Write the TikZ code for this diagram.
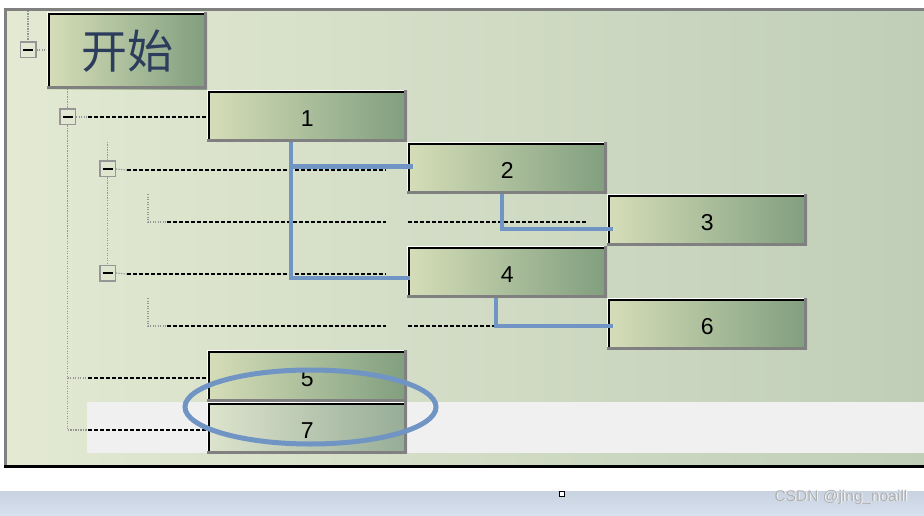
\documentclass[tikz,border=0pt]{standalone}
\usepackage{fontspec}
\setmainfont{Liberation Sans}
\newfontfamily\cjk{Noto Sans CJK SC}
\usetikzlibrary{calc}
\definecolor{bgL}{RGB}{227,233,210}
\definecolor{bgR}{RGB}{192,206,184}
\definecolor{boxL}{RGB}{214,222,184}
\definecolor{boxR}{RGB}{128,158,126}
\definecolor{boxLb}{RGB}{222,228,206}
\definecolor{boxRb}{RGB}{150,172,150}
\definecolor{conn}{RGB}{112,149,196}
\definecolor{treeg}{RGB}{150,150,150}
\definecolor{edgeg}{RGB}{128,128,128}
\definecolor{rowhl}{RGB}{240,240,240}
\definecolor{bandA}{RGB}{200,210,224}
\definecolor{bandB}{RGB}{216,225,238}
\definecolor{cjktext}{RGB}{44,60,92}
\definecolor{wmgray}{RGB}{175,175,175}
\newcommand\bevel[1]{%
  \fill[white] (#1.north west) rectangle ([yshift=-1pt]#1.north east);
  \fill[white] (#1.north west) rectangle ([xshift=1pt]#1.south west);
  \fill[black] ([xshift=1pt,yshift=-1pt]#1.north west) rectangle ([xshift=-3pt,yshift=-3pt]#1.north east);
  \fill[black] ([xshift=1pt,yshift=-1pt]#1.north west) rectangle ([xshift=3pt,yshift=3pt]#1.south west);
  \fill[edgeg] (#1.south west) rectangle ([yshift=3pt]#1.south east);
  \fill[edgeg] ([xshift=-3pt]#1.north east) rectangle (#1.south east);
}
\newcommand\minus[1]{%
  \draw[black,line width=2pt] ([xshift=-5pt]#1.center) -- ([xshift=5pt]#1.center);
}
\tikzset{
  item/.style={rectangle, anchor=north west, inner sep=0pt,
    minimum width=200pt, minimum height=51.5pt,
    left color=boxL, right color=boxR, text=black,
    text height=20.5pt, text depth=0pt,
    font=\fontsize{23}{23}\selectfont},
  expander/.style={rectangle, draw=treeg, line width=1.5pt, inner sep=0pt,
    minimum size=15.5pt},
  tree/.style={treeg, line width=1.2pt, dash pattern=on 1.2pt off 1.3pt},
  guide/.style={black, line width=1.3pt, dash pattern=on 4pt off 2pt},
  link/.style={conn, line width=4.5pt, line join=miter},
}
\begin{document}
\begin{tikzpicture}[x=1pt,y=-1pt]
\useasboundingbox (0,0) rectangle (924,516);
% background
\fill[white] (0,0) rectangle (924,516);
\shade[left color=bgL, right color=bgR] (7,11) rectangle (924,465);
\fill[rowhl] (87,402) rectangle (924,453);
% frame
\fill[edgeg] (4,8) rectangle (924,11);
\fill[edgeg] (4,8) rectangle (7,467);
\fill[black] (4,465) rectangle (924,467.5);
% bottom band
\shade[top color=bandA, bottom color=bandB] (0,491) rectangle (924,516);
\draw[black, fill=white, line width=0.8pt] (559,491) rectangle (564,496);
\node[anchor=east, text=white, font=\fontsize{15.5}{15.5}\selectfont] at (911.8,497.8) {CSDN @jing\_noaill};
\node[anchor=east, text=wmgray, font=\fontsize{15.5}{15.5}\selectfont] (wm) at (911,497) {CSDN @jing\_noaill};

% expanders
\node[expander] (e0) at (28,50) {};
\node[expander] (e1) at (67.5,117) {};
\node[expander] (e2) at (107.5,169) {};
\node[expander] (e4) at (107.5,273) {};
\foreach \e in {e0,e1,e2,e4} {\minus{\e}}

% items
\node[item, minimum width=160pt, minimum height=77pt, text height=40pt, text depth=4pt, font=\cjk\fontsize{46}{46}\selectfont, text=cjktext] (n0) at (47,12) {开始};
\node[item] (n1) at (207,90) {1};
\node[item] (n2) at (407,142) {2};
\node[item] (n3) at (607,194) {3};
\node[item] (n4) at (407,246) {4};
\node[item] (n6) at (607,298) {6};
\node[item] (n5) at (207,350) {5};
\node[item, left color=boxLb, right color=boxRb] (n7) at (207,402) {7};

% tree lines
\coordinate (t5) at (88,378);
\coordinate (t7) at (88,430);
\draw[tree] (28,11) -- (e0.north);
\draw[tree] (e0.east) -- (n0.west |- e0.east);
\draw[tree] (67.5,89) -- (e1.north);
\draw[tree] (e1.east) -- (88,117);
\draw[tree] (e1.south) -- (67.5,430) -- (t7);
\draw[tree] (67.5,378) -- (t5);
\draw[tree] (107.5,142) -- (e2.north);
\draw[tree] (e2.south) -- (e4.north);
\draw[tree] (e2.east) -- (127,170);
\draw[tree] (e4.east) -- (127,274);
\draw[tree] (148,194) -- (148,222) -- (167,222);
\draw[tree] (148,298) -- (148,326) -- (167,326);

% guide lines
\draw[guide] (88,117) -- (n1.west |- 0,117);
\draw[guide] (127,170) -- (386,170);
\draw[guide] (167,222) -- (386,222);
\draw[guide] (408,222) -- (587,222);
\draw[guide] (127,274) -- (386,274);
\draw[guide] (167,326) -- (386,326);
\draw[guide] (408,326) -- (587,326);
\draw[guide] (t5) -- (n5.west |- t5);
\draw[guide] (t7) -- (n7.west |- t7);

% bevels
\foreach \n in {n0,n1,n2,n3,n4,n6,n5,n7} {\bevel{\n}}

% connectors
\draw[link] ([xshift=-16pt]n1.south) |- ([xshift=6pt,yshift=1.5pt]n2.west);
\draw[link] ([xshift=-16pt]n1.south) |- ([xshift=3pt,yshift=-6pt]n4.west);
\draw[link] ([xshift=-5pt]n2.south) |- ([xshift=6pt,yshift=-9.25pt]n3.west);
\draw[link] ([xshift=-11pt]n4.south) |- ([xshift=6pt,yshift=-2.25pt]n6.west);

% highlight ellipse
\draw[conn, line width=5pt] (310.5,407) ellipse [x radius=125.5pt, y radius=37pt];
\end{tikzpicture}
\end{document}
